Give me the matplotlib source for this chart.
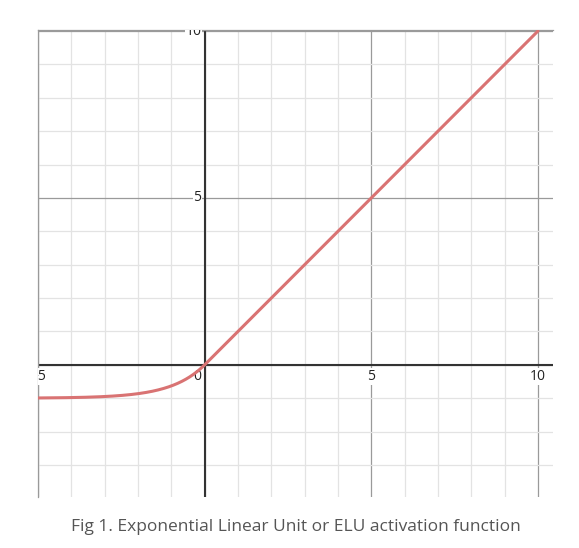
import matplotlib.pyplot as plt
import numpy as np

plt.rcParams['font.family'] = ['Open Sans', 'DejaVu Sans']

X_MIN, X_MAX = -5, 10.45
Y_MIN, Y_MAX = -3.96, 10.03
ALPHA = 1.0
X_LABELS = [-5, 5, 10]
Y_LABELS = [5, 10]
CAPTION = "Fig 1. Exponential Linear Unit or ELU activation function"

x = np.linspace(X_MIN, 10.0, 800)
y = np.where(x > 0, x, ALPHA * (np.exp(x) - 1))

fig = plt.figure(figsize=(5.79, 5.48), dpi=100)
ax = fig.add_axes([38 / 579, 1 - 497 / 548, (553 - 38) / 579, (497 - 30) / 548])
ax.set_xlim(X_MIN, X_MAX)
ax.set_ylim(Y_MIN, Y_MAX)

for v in range(-5, 11):
    major = v % 5 == 0
    ax.axvline(v, color="#9a9a9a" if major else "#e3e3e3", lw=0.9, zorder=1)
for v in range(-3, 11):
    major = v % 5 == 0
    ax.axhline(v, color="#9a9a9a" if major else "#e3e3e3", lw=0.9, zorder=1)
ax.axvline(0, color="#333333", lw=1.5, zorder=2)
ax.axhline(0, color="#333333", lw=1.5, zorder=2)

ax.plot(x, y, color="#d97373", lw=2.2, zorder=4, solid_capstyle="round")

box = dict(facecolor="white", edgecolor="none", pad=0.5)
for v in X_LABELS:
    ax.text(v, -0.12, str(v).replace("-", "\u2212"), ha="center", va="top", fontsize=10,
            color="#222222", bbox=box, zorder=3, clip_on=True)
for v in Y_LABELS:
    ax.text(-0.1, v, str(v), ha="right", va="center", fontsize=10,
            color="#222222", bbox=box, zorder=3, clip_on=True)
ax.text(-0.1, -0.12, "0", ha="right", va="top", fontsize=10, color="#222222",
        bbox=box, zorder=3)

ax.set_xticks([])
ax.set_yticks([])
for s in ["right", "bottom"]:
    ax.spines[s].set_visible(False)
for s in ["left", "top"]:
    ax.spines[s].set_color("#9a9a9a")
    ax.spines[s].set_linewidth(0.9)

fig.text(296 / 579, 1 - 527 / 548, CAPTION, ha="center", va="center", fontsize=12.5, color="#555555")

fig.savefig("out.png", dpi=100)
